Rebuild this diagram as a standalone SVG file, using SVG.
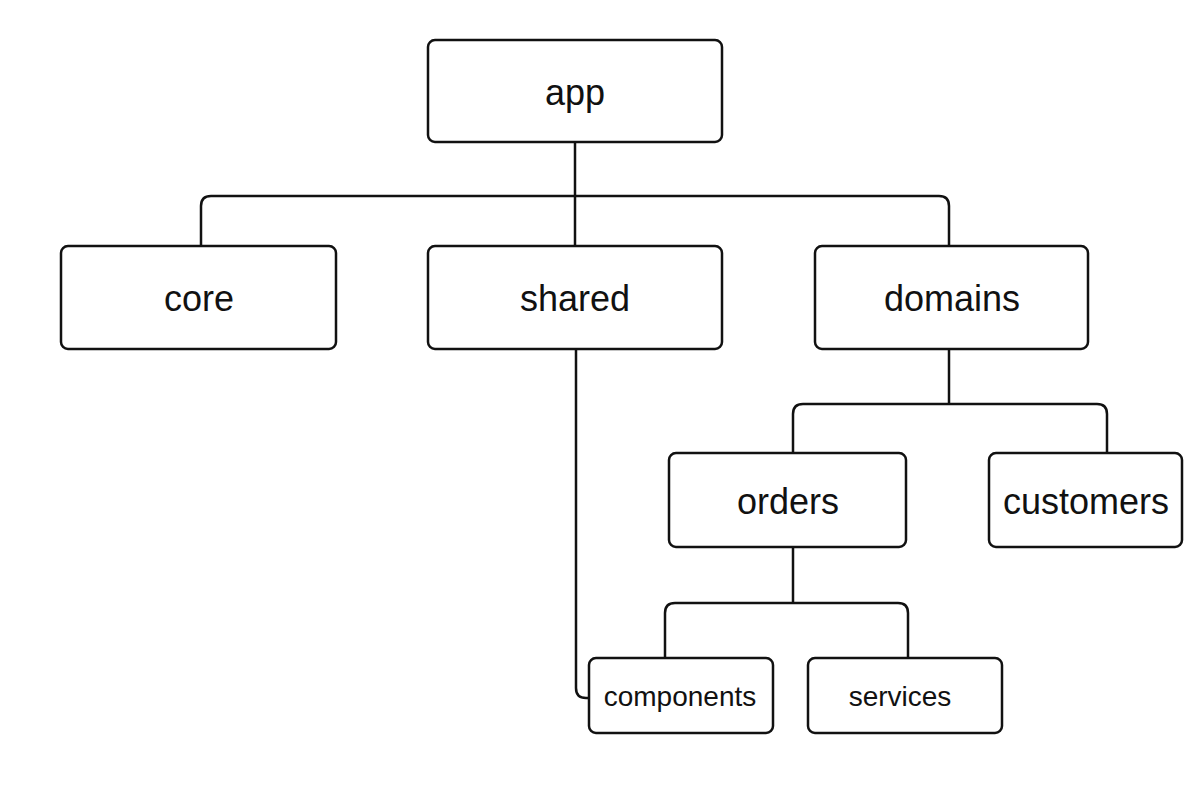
<svg xmlns="http://www.w3.org/2000/svg" width="1200" height="800" viewBox="0 0 1200 800">
<style>
.n rect{fill:#fff;stroke:#111;stroke-width:2.5}
.n text{font-family:"Liberation Sans",Arial,sans-serif;font-size:36px;fill:#111;text-anchor:middle;dominant-baseline:central}
.n text.s{font-size:28px}
.c path{fill:none;stroke:#111;stroke-width:2.5}
</style>
<rect width="1200" height="800" fill="#fff"/>
<g class="c">
<path d="M575 142V246"/>
<path d="M201 246V206Q201 196 211 196H939Q949 196 949 206V246"/>
<path d="M576 349V688Q576 698 586 698H590"/>
<path d="M949 349V404"/>
<path d="M793 453V414Q793 404 803 404H1097Q1107 404 1107 414V453"/>
<path d="M793 547V603"/>
<path d="M665 658V613Q665 603 675 603H898Q908 603 908 613V658"/>
</g>
<g id="app" class="n"><rect x="428" y="40" width="294" height="102" rx="7"/><text x="575" y="92">app</text></g>
<g id="core" class="n"><rect x="61" y="246" width="275" height="103" rx="7"/><text x="199" y="298">core</text></g>
<g id="shared" class="n"><rect x="428" y="246" width="294" height="103" rx="7"/><text x="575" y="298">shared</text></g>
<g id="domains" class="n"><rect x="815" y="246" width="273" height="103" rx="7"/><text x="952" y="298">domains</text></g>
<g id="orders" class="n"><rect x="669" y="453" width="237" height="94" rx="7"/><text x="788" y="501">orders</text></g>
<g id="customers" class="n"><rect x="989" y="453" width="193" height="94" rx="7"/><text x="1086" y="501">customers</text></g>
<g id="components" class="n"><rect x="589" y="658" width="184" height="75" rx="7"/><text class="s" x="680" y="696">components</text></g>
<g id="services" class="n"><rect x="808" y="658" width="194" height="75" rx="7"/><text class="s" x="900" y="696">services</text></g>
</svg>
